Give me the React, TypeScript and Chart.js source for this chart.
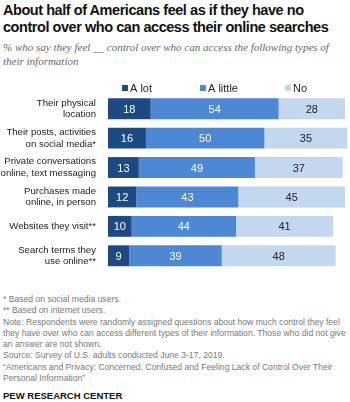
import React, { useEffect, useRef } from "react";
import { Chart, registerables } from "chart.js";

Chart.register(...registerables);

const categories: string[][] = [
  ["Their physical", "location"],
  ["Their posts, activities", "on social media*"],
  ["Private conversations", "online, text messaging"],
  ["Purchases made", "online, in person"],
  ["Websites they visit**"],
  ["Search terms they", "use online**"],
];
const seriesNames = ["A lot", "A little", "No"];
const aLot = [18, 16, 13, 12, 10, 9];
const aLittle = [54, 50, 49, 43, 44, 39];
const noControl = [28, 35, 37, 45, 41, 48];

const colors = ["#1d4a82", "#4c88d4", "#c3d7ef"];
const labelColors = ["#ffffff", "#ffffff", "#222222"];
const SANS_REG = "'Liberation Sans', Arial, sans-serif";

const valueLabels = {
  id: "valueLabels",
  afterDatasetsDraw(chart: any) {
    const ctx = chart.ctx;
    ctx.save();
    ctx.font = `11px ${SANS_REG}`;
    ctx.textAlign = "center";
    ctx.textBaseline = "middle";
    chart.data.datasets.forEach((ds: any, i: number) => {
      const meta = chart.getDatasetMeta(i);
      meta.data.forEach((bar: any, j: number) => {
        const v = ds.data[j];
        const x = (bar.x + bar.base) / 2;
        ctx.fillStyle = labelColors[i];
        ctx.fillText(String(v), x, bar.y + 1);
      });
    });
    ctx.restore();
  },
};

const legendOffsets = [14, 92, 177];
const customLegend = {
  id: "customLegend",
  afterDraw(chart: any) {
    const ctx = chart.ctx;
    const left = chart.chartArea.left;
    const y = 12;
    ctx.save();
    ctx.font = `11px ${SANS_REG}`;
    ctx.textBaseline = "middle";
    ctx.textAlign = "left";
    chart.data.datasets.forEach((ds: any, i: number) => {
      const x = left + legendOffsets[i];
      ctx.fillStyle = colors[i];
      ctx.fillRect(x, y - 3, 6, 6);
      ctx.fillStyle = "#222";
      ctx.fillText(ds.label, x + 8, y + 1);
    });
    ctx.restore();
  },
};

export default function App() {
  const ref = useRef<HTMLCanvasElement>(null);
  useEffect(() => {
    document.body.style.margin = "0";
    const chart = new Chart(ref.current!, {
      type: "bar",
      data: {
        labels: categories,
        datasets: [aLot, aLittle, noControl].map((d, i) => ({
          label: seriesNames[i],
          data: d,
          backgroundColor: colors[i],
          borderWidth: 0,
          barPercentage: 0.71,
          categoryPercentage: 1,
          clip: false as any,
        })),
      },
      options: {
        indexAxis: "y",
        animation: false,
        responsive: false,
        maintainAspectRatio: false,
        layout: { padding: { top: 18, right: 5, left: 0, bottom: 2 } },
        plugins: { legend: { display: false }, tooltip: { enabled: false } },
        scales: {
          x: { stacked: true, min: 0, max: 100, display: false },
          y: {
            stacked: true,
            grid: { display: false },
            border: { display: false },
            ticks: {
              color: "#222",
              font: { family: SANS_REG, size: 9.6, lineHeight: 1.2 },
              padding: 4,
            },
            afterFit(scale: any) {
              scale.width = 108;
            },
          },
        },
      },
      plugins: [valueLabels, customLegend],
    });
    return () => chart.destroy();
  }, []);

  const foot: React.CSSProperties = { margin: 0, lineHeight: "11.3px" };
  return (
    <div style={{ position: "relative", width: 350, height: 402, background: "#fff", overflow: "hidden" }}>
      <div
        style={{
          position: "absolute",
          left: 3,
          top: 2,
          width: 347,
          fontFamily: SANS_REG,
          fontWeight: 700,
          fontSize: 14.5,
          letterSpacing: "-0.45px",
          lineHeight: "17px",
          color: "#111",
          whiteSpace: "nowrap",
        }}
      >
        About half of Americans feel as if they have no
        <br />
        control over who can access their online searches
      </div>
      <div
        style={{
          position: "absolute",
          left: 3,
          top: 40,
          width: 345,
          fontFamily: "'Liberation Serif', 'DejaVu Serif', serif",
          fontStyle: "italic",
          fontSize: 11,
          lineHeight: "14px",
          color: "#666",
        }}
      >
        % who say they feel __ control over who can access the following types of their information
      </div>
      <canvas ref={ref} width={350} height={210} style={{ position: "absolute", left: 0, top: 76, width: 350, height: 210 }} />
      <div
        style={{
          position: "absolute",
          left: 3,
          top: 294,
          width: 347,
          fontFamily: SANS_REG,
          fontSize: 8.6,
          color: "#777",
          whiteSpace: "nowrap",
        }}
      >
        <p style={foot}>* Based on social media users.</p>
        <p style={foot}>** Based on internet users.</p>
        <p style={foot}>
          Note: Respondents were randomly assigned questions about how much control they feel
          <br />
          they have over who can access different types of their information. Those who did not give
          <br />
          an answer are not shown.
        </p>
        <p style={foot}>Source: Survey of U.S. adults conducted June 3-17, 2019.</p>
        <p style={foot}>
          “Americans and Privacy: Concerned, Confused and Feeling Lack of Control Over Their
          <br />
          Personal Information”
        </p>
        <p style={{ margin: "6px 0 0 0", fontWeight: 700, color: "#111", fontSize: 9.5 }}>PEW RESEARCH CENTER</p>
      </div>
    </div>
  );
}
